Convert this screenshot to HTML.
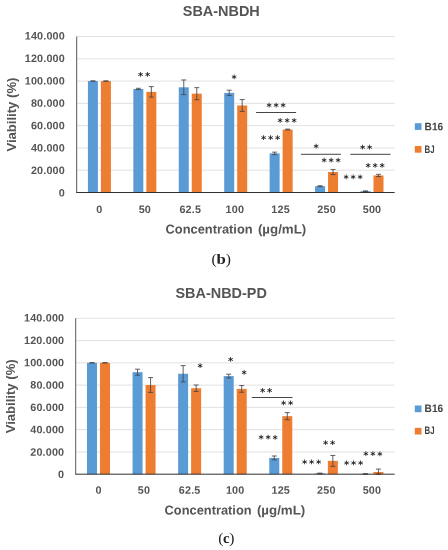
<!DOCTYPE html><html><head><meta charset="utf-8"><title>Charts</title><style>html,body{margin:0;padding:0;background:#fff}svg{display:block}</style></head><body><svg width="448" height="550" viewBox="0 0 448 550" font-family='"Liberation Sans","DejaVu Sans",sans-serif'>
<rect width="448" height="550" fill="#fff"/>
<line x1="76.7" x2="394.7" y1="170.21" y2="170.21" stroke="#d9d9d9" stroke-width="0.8"/>
<line x1="76.7" x2="394.7" y1="147.93" y2="147.93" stroke="#d9d9d9" stroke-width="0.8"/>
<line x1="76.7" x2="394.7" y1="125.64" y2="125.64" stroke="#d9d9d9" stroke-width="0.8"/>
<line x1="76.7" x2="394.7" y1="103.36" y2="103.36" stroke="#d9d9d9" stroke-width="0.8"/>
<line x1="76.7" x2="394.7" y1="81.07" y2="81.07" stroke="#d9d9d9" stroke-width="0.8"/>
<line x1="76.7" x2="394.7" y1="58.79" y2="58.79" stroke="#d9d9d9" stroke-width="0.8"/>
<line x1="76.7" x2="394.7" y1="36.50" y2="36.50" stroke="#d9d9d9" stroke-width="0.8"/>
<rect x="87.91" y="81.07" width="10" height="111.43" fill="#5b9bd5"/>
<rect x="100.91" y="81.07" width="10" height="111.43" fill="#ed7d31"/>
<path d="M92.91 80.90V81.24M90.41 80.90H95.41M90.41 81.24H95.41" stroke="#454545" stroke-width="0.85" fill="none"/>
<path d="M105.91 80.90V81.24M103.41 80.90H108.41M103.41 81.24H108.41" stroke="#454545" stroke-width="0.85" fill="none"/>
<rect x="133.34" y="88.98" width="10" height="103.52" fill="#5b9bd5"/>
<rect x="146.34" y="91.88" width="10" height="100.62" fill="#ed7d31"/>
<path d="M138.34 88.31V89.65M135.84 88.31H140.84M135.84 89.65H140.84" stroke="#454545" stroke-width="0.85" fill="none"/>
<path d="M151.34 86.64V97.12M148.84 86.64H153.84M148.84 97.12H153.84" stroke="#454545" stroke-width="0.85" fill="none"/>
<rect x="178.77" y="87.31" width="10" height="105.19" fill="#5b9bd5"/>
<rect x="191.77" y="93.66" width="10" height="98.84" fill="#ed7d31"/>
<path d="M183.77 79.96V94.67M181.27 79.96H186.27M181.27 94.67H186.27" stroke="#454545" stroke-width="0.85" fill="none"/>
<path d="M196.77 87.65V99.68M194.27 87.65H199.27M194.27 99.68H199.27" stroke="#454545" stroke-width="0.85" fill="none"/>
<rect x="224.20" y="92.88" width="10" height="99.62" fill="#5b9bd5"/>
<rect x="237.20" y="105.47" width="10" height="87.03" fill="#ed7d31"/>
<path d="M229.20 90.21V95.56M226.70 90.21H231.70M226.70 95.56H231.70" stroke="#454545" stroke-width="0.85" fill="none"/>
<path d="M242.20 99.57V111.38M239.70 99.57H244.70M239.70 111.38H244.70" stroke="#454545" stroke-width="0.85" fill="none"/>
<rect x="269.63" y="153.39" width="10" height="39.11" fill="#5b9bd5"/>
<rect x="282.63" y="129.54" width="10" height="62.96" fill="#ed7d31"/>
<path d="M274.63 152.16V154.61M272.13 152.16H277.13M272.13 154.61H277.13" stroke="#454545" stroke-width="0.85" fill="none"/>
<path d="M287.63 129.10V129.99M285.13 129.10H290.13M285.13 129.99H290.13" stroke="#454545" stroke-width="0.85" fill="none"/>
<rect x="315.06" y="186.20" width="10" height="6.30" fill="#5b9bd5"/>
<rect x="328.06" y="172.00" width="10" height="20.50" fill="#ed7d31"/>
<path d="M320.06 185.76V186.65M317.56 185.76H322.56M317.56 186.65H322.56" stroke="#454545" stroke-width="0.85" fill="none"/>
<path d="M333.06 169.43V174.56M330.56 169.43H335.56M330.56 174.56H335.56" stroke="#454545" stroke-width="0.85" fill="none"/>
<rect x="360.49" y="191.16" width="10" height="1.34" fill="#5b9bd5"/>
<rect x="373.49" y="175.45" width="10" height="17.05" fill="#ed7d31"/>
<path d="M365.49 190.94V191.39M362.99 190.94H367.99M362.99 191.39H367.99" stroke="#454545" stroke-width="0.85" fill="none"/>
<path d="M378.49 174.34V176.57M375.99 174.34H380.99M375.99 176.57H380.99" stroke="#454545" stroke-width="0.85" fill="none"/>
<line x1="76.7" x2="76.7" y1="36.5" y2="192.5" stroke="#595959" stroke-width="1"/>
<line x1="76.3" x2="394.7" y1="192.5" y2="192.5" stroke="#262626" stroke-width="0.95"/>
<text transform="translate(65.00 196.40) rotate(0.03)" text-anchor="end" font-size="10.8" font-weight="bold" fill="#555555" letter-spacing="0.18">0</text>
<text transform="translate(65.00 174.00) rotate(0.03)" text-anchor="end" font-size="10.8" font-weight="bold" fill="#555555" letter-spacing="0.18">20.000</text>
<text transform="translate(65.00 151.60) rotate(0.03)" text-anchor="end" font-size="10.8" font-weight="bold" fill="#555555" letter-spacing="0.18">40.000</text>
<text transform="translate(65.00 129.20) rotate(0.03)" text-anchor="end" font-size="10.8" font-weight="bold" fill="#555555" letter-spacing="0.18">60.000</text>
<text transform="translate(65.00 106.80) rotate(0.03)" text-anchor="end" font-size="10.8" font-weight="bold" fill="#555555" letter-spacing="0.18">80.000</text>
<text transform="translate(65.00 84.40) rotate(0.03)" text-anchor="end" font-size="10.8" font-weight="bold" fill="#555555" letter-spacing="0.18">100.000</text>
<text transform="translate(65.00 62.00) rotate(0.03)" text-anchor="end" font-size="10.8" font-weight="bold" fill="#555555" letter-spacing="0.18">120.000</text>
<text transform="translate(65.00 39.60) rotate(0.03)" text-anchor="end" font-size="10.8" font-weight="bold" fill="#555555" letter-spacing="0.18">140.000</text>
<text transform="translate(99.41 213.00) rotate(0.03)" text-anchor="middle" font-size="10.8" font-weight="bold" fill="#555555" letter-spacing="0.18">0</text>
<text transform="translate(144.84 213.00) rotate(0.03)" text-anchor="middle" font-size="10.8" font-weight="bold" fill="#555555" letter-spacing="0.18">50</text>
<text transform="translate(190.27 213.00) rotate(0.03)" text-anchor="middle" font-size="10.8" font-weight="bold" fill="#555555" letter-spacing="0.18">62.5</text>
<text transform="translate(234.90 213.00) rotate(0.03)" text-anchor="middle" font-size="10.8" font-weight="bold" fill="#555555" letter-spacing="0.18">100</text>
<text transform="translate(280.63 213.00) rotate(0.03)" text-anchor="middle" font-size="10.8" font-weight="bold" fill="#555555" letter-spacing="0.18">125</text>
<text transform="translate(326.56 213.00) rotate(0.03)" text-anchor="middle" font-size="10.8" font-weight="bold" fill="#555555" letter-spacing="0.18">250</text>
<text transform="translate(371.99 213.00) rotate(0.03)" text-anchor="middle" font-size="10.8" font-weight="bold" fill="#555555" letter-spacing="0.18">500</text>
<text transform="translate(165.60 233.50) rotate(0.03)" font-size="12.8" font-weight="bold" fill="#555555"><tspan x="0" textLength="87" lengthAdjust="spacingAndGlyphs">Concentration</tspan><tspan> </tspan><tspan x="92.3" textLength="48.4" lengthAdjust="spacingAndGlyphs">(µg/mL)</tspan></text>
<text transform="translate(15.90 114.60) rotate(-90)" x="-37" textLength="74" lengthAdjust="spacingAndGlyphs" font-size="12.8" font-weight="bold" fill="#555555">Viability (%)</text>
<text x="182.80" y="16.4" textLength="77" lengthAdjust="spacingAndGlyphs" font-size="14.6" font-weight="bold" fill="#555555">SBA-NBDH</text>
<rect x="414.8" y="123.20" width="6.7" height="6.7" fill="#5b9bd5"/>
<text transform="translate(424.6 130.20) rotate(0.03)" font-size="10.8" font-weight="bold" fill="#404040" textLength="18.6" lengthAdjust="spacingAndGlyphs">B16</text>
<rect x="414.8" y="146.00" width="6.7" height="6.7" fill="#ed7d31"/>
<text transform="translate(424.6 152.60) rotate(0.03)" font-size="10.8" font-weight="bold" fill="#404040" textLength="10" lengthAdjust="spacingAndGlyphs">BJ</text>
<text transform="translate(137.91 79.57) rotate(0.03)" font-family="DejaVu Sans,sans-serif" font-size="10" font-weight="bold" fill="#1a1a1a" letter-spacing="1.77">**</text>
<text transform="translate(231.61 81.97) rotate(0.03)" font-family="DejaVu Sans,sans-serif" font-size="10" font-weight="bold" fill="#1a1a1a" letter-spacing="1.77">*</text>
<text transform="translate(266.41 110.27) rotate(0.03)" font-family="DejaVu Sans,sans-serif" font-size="10" font-weight="bold" fill="#1a1a1a" letter-spacing="1.77">***</text>
<text transform="translate(277.51 125.57) rotate(0.03)" font-family="DejaVu Sans,sans-serif" font-size="10" font-weight="bold" fill="#1a1a1a" letter-spacing="1.77">***</text>
<text transform="translate(260.91 142.77) rotate(0.03)" font-family="DejaVu Sans,sans-serif" font-size="10" font-weight="bold" fill="#1a1a1a" letter-spacing="1.77">***</text>
<text transform="translate(313.41 151.27) rotate(0.03)" font-family="DejaVu Sans,sans-serif" font-size="10" font-weight="bold" fill="#1a1a1a" letter-spacing="1.77">*</text>
<text transform="translate(321.51 165.27) rotate(0.03)" font-family="DejaVu Sans,sans-serif" font-size="10" font-weight="bold" fill="#1a1a1a" letter-spacing="1.77">***</text>
<text transform="translate(343.61 182.07) rotate(0.03)" font-family="DejaVu Sans,sans-serif" font-size="10" font-weight="bold" fill="#1a1a1a" letter-spacing="1.77">***</text>
<text transform="translate(359.91 152.27) rotate(0.03)" font-family="DejaVu Sans,sans-serif" font-size="10" font-weight="bold" fill="#1a1a1a" letter-spacing="1.77">**</text>
<text transform="translate(365.51 170.47) rotate(0.03)" font-family="DejaVu Sans,sans-serif" font-size="10" font-weight="bold" fill="#1a1a1a" letter-spacing="1.77">***</text>
<line x1="256.1" x2="296.1" y1="112.5" y2="112.5" stroke="#303030" stroke-width="0.9"/>
<line x1="300.9" x2="340.9" y1="154.3" y2="154.3" stroke="#303030" stroke-width="0.9"/>
<line x1="350.3" x2="390.6" y1="154.3" y2="154.3" stroke="#303030" stroke-width="0.9"/>
<text x="221.2" y="264.0" text-anchor="middle" font-family='"Liberation Serif","DejaVu Serif",serif' font-size="15.5" fill="#222">(<tspan font-weight="bold" dx="0" textLength="9.3" lengthAdjust="spacingAndGlyphs">b</tspan><tspan dx="0">)</tspan></text>
<line x1="75.7" x2="394.7" y1="451.93" y2="451.93" stroke="#d9d9d9" stroke-width="0.8"/>
<line x1="75.7" x2="394.7" y1="429.66" y2="429.66" stroke="#d9d9d9" stroke-width="0.8"/>
<line x1="75.7" x2="394.7" y1="407.39" y2="407.39" stroke="#d9d9d9" stroke-width="0.8"/>
<line x1="75.7" x2="394.7" y1="385.11" y2="385.11" stroke="#d9d9d9" stroke-width="0.8"/>
<line x1="75.7" x2="394.7" y1="362.84" y2="362.84" stroke="#d9d9d9" stroke-width="0.8"/>
<line x1="75.7" x2="394.7" y1="340.57" y2="340.57" stroke="#d9d9d9" stroke-width="0.8"/>
<line x1="75.7" x2="394.7" y1="318.30" y2="318.30" stroke="#d9d9d9" stroke-width="0.8"/>
<rect x="86.99" y="362.84" width="10" height="111.36" fill="#5b9bd5"/>
<rect x="99.99" y="362.84" width="10" height="111.36" fill="#ed7d31"/>
<path d="M91.99 362.68V363.01M89.49 362.68H94.49M89.49 363.01H94.49" stroke="#454545" stroke-width="0.85" fill="none"/>
<path d="M104.99 362.68V363.01M102.49 362.68H107.49M102.49 363.01H107.49" stroke="#454545" stroke-width="0.85" fill="none"/>
<rect x="132.56" y="372.20" width="10" height="102.00" fill="#5b9bd5"/>
<rect x="145.56" y="385.00" width="10" height="89.20" fill="#ed7d31"/>
<path d="M137.56 369.19V375.20M135.06 369.19H140.06M135.06 375.20H140.06" stroke="#454545" stroke-width="0.85" fill="none"/>
<path d="M150.56 377.60V392.41M148.06 377.60H153.06M148.06 392.41H153.06" stroke="#454545" stroke-width="0.85" fill="none"/>
<rect x="178.13" y="373.76" width="10" height="100.44" fill="#5b9bd5"/>
<rect x="191.13" y="388.23" width="10" height="85.97" fill="#ed7d31"/>
<path d="M183.13 365.63V381.88M180.63 365.63H185.63M180.63 381.88H185.63" stroke="#454545" stroke-width="0.85" fill="none"/>
<path d="M196.13 385.00V391.46M193.63 385.00H198.63M193.63 391.46H198.63" stroke="#454545" stroke-width="0.85" fill="none"/>
<rect x="223.70" y="376.09" width="10" height="98.11" fill="#5b9bd5"/>
<rect x="236.70" y="388.90" width="10" height="85.30" fill="#ed7d31"/>
<path d="M228.70 374.20V377.99M226.20 374.20H231.20M226.20 377.99H231.20" stroke="#454545" stroke-width="0.85" fill="none"/>
<path d="M241.70 385.56V392.24M239.20 385.56H244.20M239.20 392.24H244.20" stroke="#454545" stroke-width="0.85" fill="none"/>
<rect x="269.27" y="457.94" width="10" height="16.26" fill="#5b9bd5"/>
<rect x="282.27" y="416.18" width="10" height="58.02" fill="#ed7d31"/>
<path d="M274.27 455.99V459.89M271.77 455.99H276.77M271.77 459.89H276.77" stroke="#454545" stroke-width="0.85" fill="none"/>
<path d="M287.27 412.62V419.75M284.77 412.62H289.77M284.77 419.75H289.77" stroke="#454545" stroke-width="0.85" fill="none"/>
<rect x="314.84" y="473.42" width="10" height="0.78" fill="#5b9bd5"/>
<rect x="327.84" y="460.89" width="10" height="13.31" fill="#ed7d31"/>
<path d="M319.84 473.14V473.70M317.34 473.14H322.34M317.34 473.70H322.34" stroke="#454545" stroke-width="0.85" fill="none"/>
<path d="M332.84 455.44V466.35M330.34 455.44H335.34M330.34 466.35H335.34" stroke="#454545" stroke-width="0.85" fill="none"/>
<rect x="360.41" y="473.92" width="10" height="0.28" fill="#5b9bd5"/>
<rect x="373.41" y="471.97" width="10" height="2.23" fill="#ed7d31"/>
<path d="M365.41 473.79V474.06M362.91 473.79H367.91M362.91 474.06H367.91" stroke="#454545" stroke-width="0.85" fill="none"/>
<path d="M378.41 469.08V474.20M375.91 469.08H380.91M375.91 474.20H380.91" stroke="#454545" stroke-width="0.85" fill="none"/>
<line x1="75.7" x2="75.7" y1="318.3" y2="474.2" stroke="#595959" stroke-width="1"/>
<line x1="75.3" x2="394.7" y1="474.2" y2="474.2" stroke="#262626" stroke-width="0.95"/>
<text transform="translate(64.30 478.00) rotate(0.03)" text-anchor="end" font-size="10.8" font-weight="bold" fill="#555555" letter-spacing="0.18">0</text>
<text transform="translate(64.30 455.66) rotate(0.03)" text-anchor="end" font-size="10.8" font-weight="bold" fill="#555555" letter-spacing="0.18">20.000</text>
<text transform="translate(64.30 433.32) rotate(0.03)" text-anchor="end" font-size="10.8" font-weight="bold" fill="#555555" letter-spacing="0.18">40.000</text>
<text transform="translate(64.30 410.98) rotate(0.03)" text-anchor="end" font-size="10.8" font-weight="bold" fill="#555555" letter-spacing="0.18">60.000</text>
<text transform="translate(64.30 388.64) rotate(0.03)" text-anchor="end" font-size="10.8" font-weight="bold" fill="#555555" letter-spacing="0.18">80.000</text>
<text transform="translate(64.30 366.30) rotate(0.03)" text-anchor="end" font-size="10.8" font-weight="bold" fill="#555555" letter-spacing="0.18">100.000</text>
<text transform="translate(64.30 343.96) rotate(0.03)" text-anchor="end" font-size="10.8" font-weight="bold" fill="#555555" letter-spacing="0.18">120.000</text>
<text transform="translate(64.30 321.62) rotate(0.03)" text-anchor="end" font-size="10.8" font-weight="bold" fill="#555555" letter-spacing="0.18">140.000</text>
<text transform="translate(98.49 493.80) rotate(0.03)" text-anchor="middle" font-size="10.8" font-weight="bold" fill="#555555" letter-spacing="0.18">0</text>
<text transform="translate(144.06 493.80) rotate(0.03)" text-anchor="middle" font-size="10.8" font-weight="bold" fill="#555555" letter-spacing="0.18">50</text>
<text transform="translate(189.63 493.80) rotate(0.03)" text-anchor="middle" font-size="10.8" font-weight="bold" fill="#555555" letter-spacing="0.18">62.5</text>
<text transform="translate(235.20 493.80) rotate(0.03)" text-anchor="middle" font-size="10.8" font-weight="bold" fill="#555555" letter-spacing="0.18">100</text>
<text transform="translate(280.77 493.80) rotate(0.03)" text-anchor="middle" font-size="10.8" font-weight="bold" fill="#555555" letter-spacing="0.18">125</text>
<text transform="translate(326.34 493.80) rotate(0.03)" text-anchor="middle" font-size="10.8" font-weight="bold" fill="#555555" letter-spacing="0.18">250</text>
<text transform="translate(371.91 493.80) rotate(0.03)" text-anchor="middle" font-size="10.8" font-weight="bold" fill="#555555" letter-spacing="0.18">500</text>
<text transform="translate(164.60 514.50) rotate(0.03)" font-size="12.8" font-weight="bold" fill="#555555"><tspan x="0" textLength="87" lengthAdjust="spacingAndGlyphs">Concentration</tspan><tspan> </tspan><tspan x="92.3" textLength="48.4" lengthAdjust="spacingAndGlyphs">(µg/mL)</tspan></text>
<text transform="translate(14.90 396.35) rotate(-90)" x="-37" textLength="74" lengthAdjust="spacingAndGlyphs" font-size="12.8" font-weight="bold" fill="#555555">Viability (%)</text>
<text x="175.40" y="297.7" textLength="91.5" lengthAdjust="spacingAndGlyphs" font-size="14.6" font-weight="bold" fill="#555555">SBA-NBD-PD</text>
<rect x="414.8" y="405.50" width="6.7" height="6.7" fill="#5b9bd5"/>
<text transform="translate(424.6 411.90) rotate(0.03)" font-size="10.8" font-weight="bold" fill="#404040" textLength="18.6" lengthAdjust="spacingAndGlyphs">B16</text>
<rect x="414.8" y="427.82" width="6.7" height="6.7" fill="#ed7d31"/>
<text transform="translate(424.6 434.30) rotate(0.03)" font-size="10.8" font-weight="bold" fill="#404040" textLength="10" lengthAdjust="spacingAndGlyphs">BJ</text>
<text transform="translate(197.41 370.77) rotate(0.03)" font-family="DejaVu Sans,sans-serif" font-size="10" font-weight="bold" fill="#1a1a1a" letter-spacing="1.77">*</text>
<text transform="translate(228.11 364.47) rotate(0.03)" font-family="DejaVu Sans,sans-serif" font-size="10" font-weight="bold" fill="#1a1a1a" letter-spacing="1.77">*</text>
<text transform="translate(241.41 377.57) rotate(0.03)" font-family="DejaVu Sans,sans-serif" font-size="10" font-weight="bold" fill="#1a1a1a" letter-spacing="1.77">*</text>
<text transform="translate(260.11 395.47) rotate(0.03)" font-family="DejaVu Sans,sans-serif" font-size="10" font-weight="bold" fill="#1a1a1a" letter-spacing="1.77">**</text>
<text transform="translate(280.91 407.97) rotate(0.03)" font-family="DejaVu Sans,sans-serif" font-size="10" font-weight="bold" fill="#1a1a1a" letter-spacing="1.77">**</text>
<text transform="translate(258.61 442.37) rotate(0.03)" font-family="DejaVu Sans,sans-serif" font-size="10" font-weight="bold" fill="#1a1a1a" letter-spacing="1.77">***</text>
<text transform="translate(322.91 447.77) rotate(0.03)" font-family="DejaVu Sans,sans-serif" font-size="10" font-weight="bold" fill="#1a1a1a" letter-spacing="1.77">**</text>
<text transform="translate(302.01 467.07) rotate(0.03)" font-family="DejaVu Sans,sans-serif" font-size="10" font-weight="bold" fill="#1a1a1a" letter-spacing="1.77">***</text>
<text transform="translate(344.01 468.07) rotate(0.03)" font-family="DejaVu Sans,sans-serif" font-size="10" font-weight="bold" fill="#1a1a1a" letter-spacing="1.77">***</text>
<text transform="translate(363.21 458.87) rotate(0.03)" font-family="DejaVu Sans,sans-serif" font-size="10" font-weight="bold" fill="#1a1a1a" letter-spacing="1.77">***</text>
<line x1="251.8" x2="292.5" y1="397.5" y2="397.5" stroke="#303030" stroke-width="0.9"/>
<text x="226.3" y="543.3" text-anchor="middle" font-family='"Liberation Serif","DejaVu Serif",serif' font-size="15.5" fill="#222">(<tspan font-weight="bold" dx="-0.4" textLength="6.6" lengthAdjust="spacingAndGlyphs">c</tspan><tspan dx="-0.4">)</tspan></text>
</svg></body></html>
